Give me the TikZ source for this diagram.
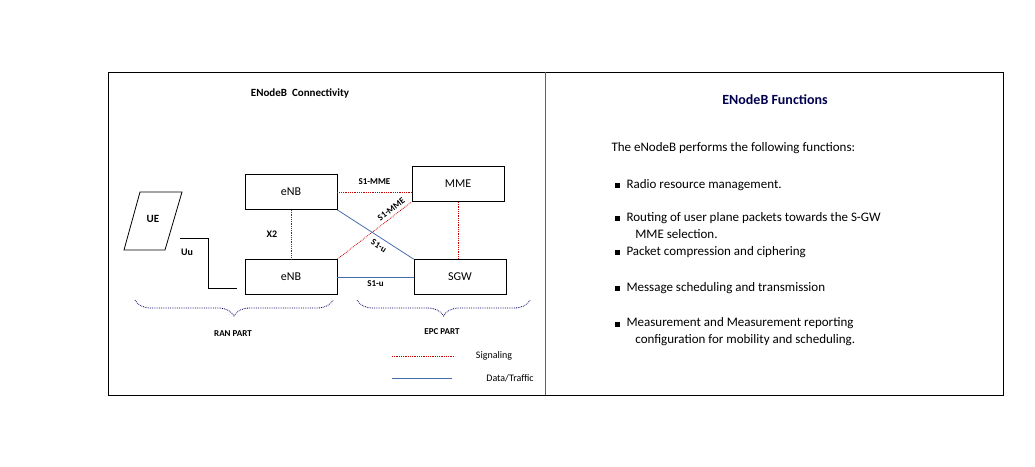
\documentclass[tikz,border=0pt]{standalone}
\usepackage{fontspec}
\setmainfont{Carlito}
\usetikzlibrary{decorations.pathreplacing}
\definecolor{datblue}{RGB}{70,110,170}
\tikzset{%
  box/.style={draw, thick, minimum width=92pt, minimum height=35pt, font=\fontsize{12}{14}\selectfont},
  sig/.style={red!80!black, densely dotted, thick},
  dat/.style={datblue, thick},
  lbl/.style={text=black, font=\bfseries\fontsize{9}{10}\selectfont},
  part/.style={blue!40!black, densely dotted, thick, decorate, decoration={brace, amplitude=16pt, mirror}},
  item/.style={anchor=west, align=left, font=\fontsize{13}{17}\selectfont}
}
\begin{document}
\begin{tikzpicture}[x=1pt,y=-1pt]
\useasboundingbox (0,0) rectangle (1035,466);
\draw[thick] (108,72) rectangle (1003,395);
\draw[blue!30!gray] (545,72) -- (545,395);
\node[font=\bfseries\fontsize{11}{13}\selectfont] (title) at (300,93) {ENodeB\ \ Connectivity};
% network elements
\node[box] (enbA) at (291,192) {eNB};
\node[box] (mme) at (458,184) {MME};
\node[box] (enbB) at (291,277) {eNB};
\node[box] (sgw) at (460,277) {SGW};
\draw[thick] (140,192) -- (182,192) -- (165,250) -- (124,250) -- cycle;
\node[lbl, font=\bfseries\fontsize{11}{13}\selectfont] (ue) at (153,219) {UE};
% links
\coordinate (uu) at (180,238);
\draw[thick] (uu) -- (208,238) |- ([xshift=-8pt,yshift=-11pt]enbB.west);
\node[lbl, font=\bfseries\fontsize{10}{12}\selectfont] (uul) at (187,252) {Uu};
\draw[sig] (enbA.east) -- (enbA.east -| mme.west) node[lbl, midway, above=4pt] {S1-MME};
\draw[sig] (enbA.south) -- (enbB.north) node[lbl, midway, left=10pt, font=\bfseries\fontsize{10}{12}\selectfont] {X2};
\draw[sig] (mme.south) -- (mme.south |- sgw.north);
\draw[sig] (enbB.north east) -- (mme.south west) node[lbl, pos=0.78, sloped, above] {S1-MME};
\draw[dat] (enbA.south east) -- (sgw.north west) node[lbl, pos=0.6, sloped, below=1pt] {S1-u};
\draw[dat] (enbB.east) -- (enbB.east -| sgw.west) node[lbl, midway, below] {S1-u};
% parts
\draw[part] (135,300) -- (333,300);
\draw[part] (357,300) -- (530,300);
\node[lbl] (ran) at (233,334) {RAN PART};
\node[lbl] (epc) at (442,332) {EPC PART};
% legend
\coordinate (s1) at (392,356); \coordinate (s2) at (455,356);
\coordinate (d1) at (392,378); \coordinate (d2) at (452,378);
\draw[sig] (s1) -- (s2);
\draw[dat] (d1) -- (d2);
\node[font=\fontsize{10}{12}\selectfont] (sigl) at (494,356) {Signaling};
\node[font=\fontsize{10}{12}\selectfont] (datl) at (510,378) {Data/Traffic};
% functions
\node[font=\bfseries\fontsize{14}{16}\selectfont, text=blue!30!black] (ftitle) at (775,100) {ENodeB Functions};
\node[item] (intro) at (608,148) {The eNodeB performs the following functions:};
\foreach \y/\t in {185/{Radio resource management.},
  226/{Routing of user plane packets towards the S-GW\\\ \ \ MME selection.},
  252/{Packet compression and ciphering},
  288/{Message scheduling and transmission},
  332/{Measurement and Measurement reporting\\\ \ \ configuration for mobility and scheduling.}}{
  \node[item] at (623,\y) {\t};
}
\foreach \y in {185,218,252,288,324}{
  \fill (615,\y-2.5) rectangle (620,\y+2.5);
}
\end{tikzpicture}
\end{document}
